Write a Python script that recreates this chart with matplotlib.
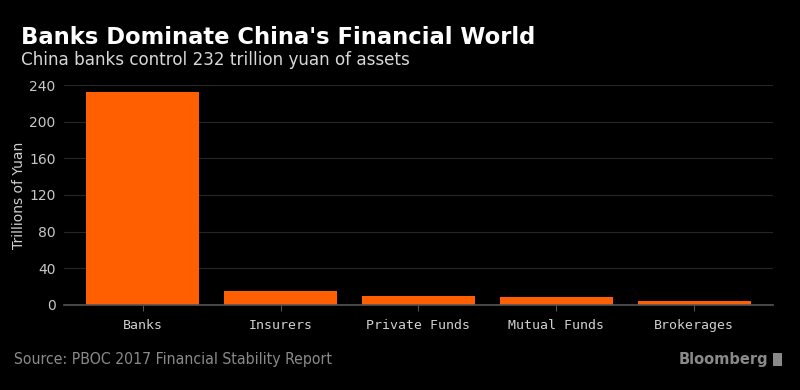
import matplotlib.pyplot as plt
from matplotlib.patches import Rectangle

# --- data ---
categories = ["Banks", "Insurers", "Private Funds", "Mutual Funds", "Brokerages"]
assets = [232, 15, 10, 8.5, 4]
yticks = [0, 40, 80, 120, 160, 200, 240]

bar_color = "#ff5f00"
bg = "#000000"

fig = plt.figure(figsize=(8, 3.9), dpi=100, facecolor=bg)
ax = fig.add_axes([0.08, 0.218, 0.886, 0.564], facecolor=bg)

ax.bar(range(len(categories)), assets, width=0.82, color=bar_color, zorder=3)

ax.set_xlim(-0.57, 4.57)
ax.set_ylim(0, 240)
ax.set_yticks(yticks)
ax.set_xticks(range(len(categories)))
ax.set_xticklabels(categories, family="DejaVu Sans Mono", fontsize=9.5, color="#d0d0d0")
ax.tick_params(axis="x", length=4, color="#555555", pad=6)
ax.tick_params(axis="y", length=0, labelcolor="#c8c8c8", labelsize=10, pad=6)
ax.grid(axis="y", color="#262626", linewidth=0.8, zorder=0)

for side in ["top", "right", "left"]:
    ax.spines[side].set_visible(False)
ax.spines["bottom"].set_color("#555555")
ax.spines["bottom"].set_linewidth(1.2)
ax.spines["bottom"].set_zorder(4)

ax.set_ylabel("Trillions of Yuan", color="#d0d0d0", fontsize=10, labelpad=2)

fig.text(0.026, 0.905, "Banks Dominate China's Financial World", color="white",
         fontsize=16.3, fontweight="bold", va="center")
fig.text(0.026, 0.845, "China banks control 232 trillion yuan of assets", color="#d8d8d8",
         fontsize=12.1, va="center")
fig.text(0.017, 0.077, "Source: PBOC 2017 Financial Stability Report", color="#8a8a8a",
         fontsize=11.3, va="center", stretch="condensed")
fig.text(0.96, 0.077, "Bloomberg", color="#8a8a8a", fontsize=10.5, fontweight="bold",
         va="center", ha="right")
fig.patches.append(Rectangle((0.966, 0.062), 0.011, 0.032, transform=fig.transFigure,
                             facecolor="#8a8a8a", edgecolor="none"))

fig.savefig("out.png", dpi=100, facecolor=bg)
